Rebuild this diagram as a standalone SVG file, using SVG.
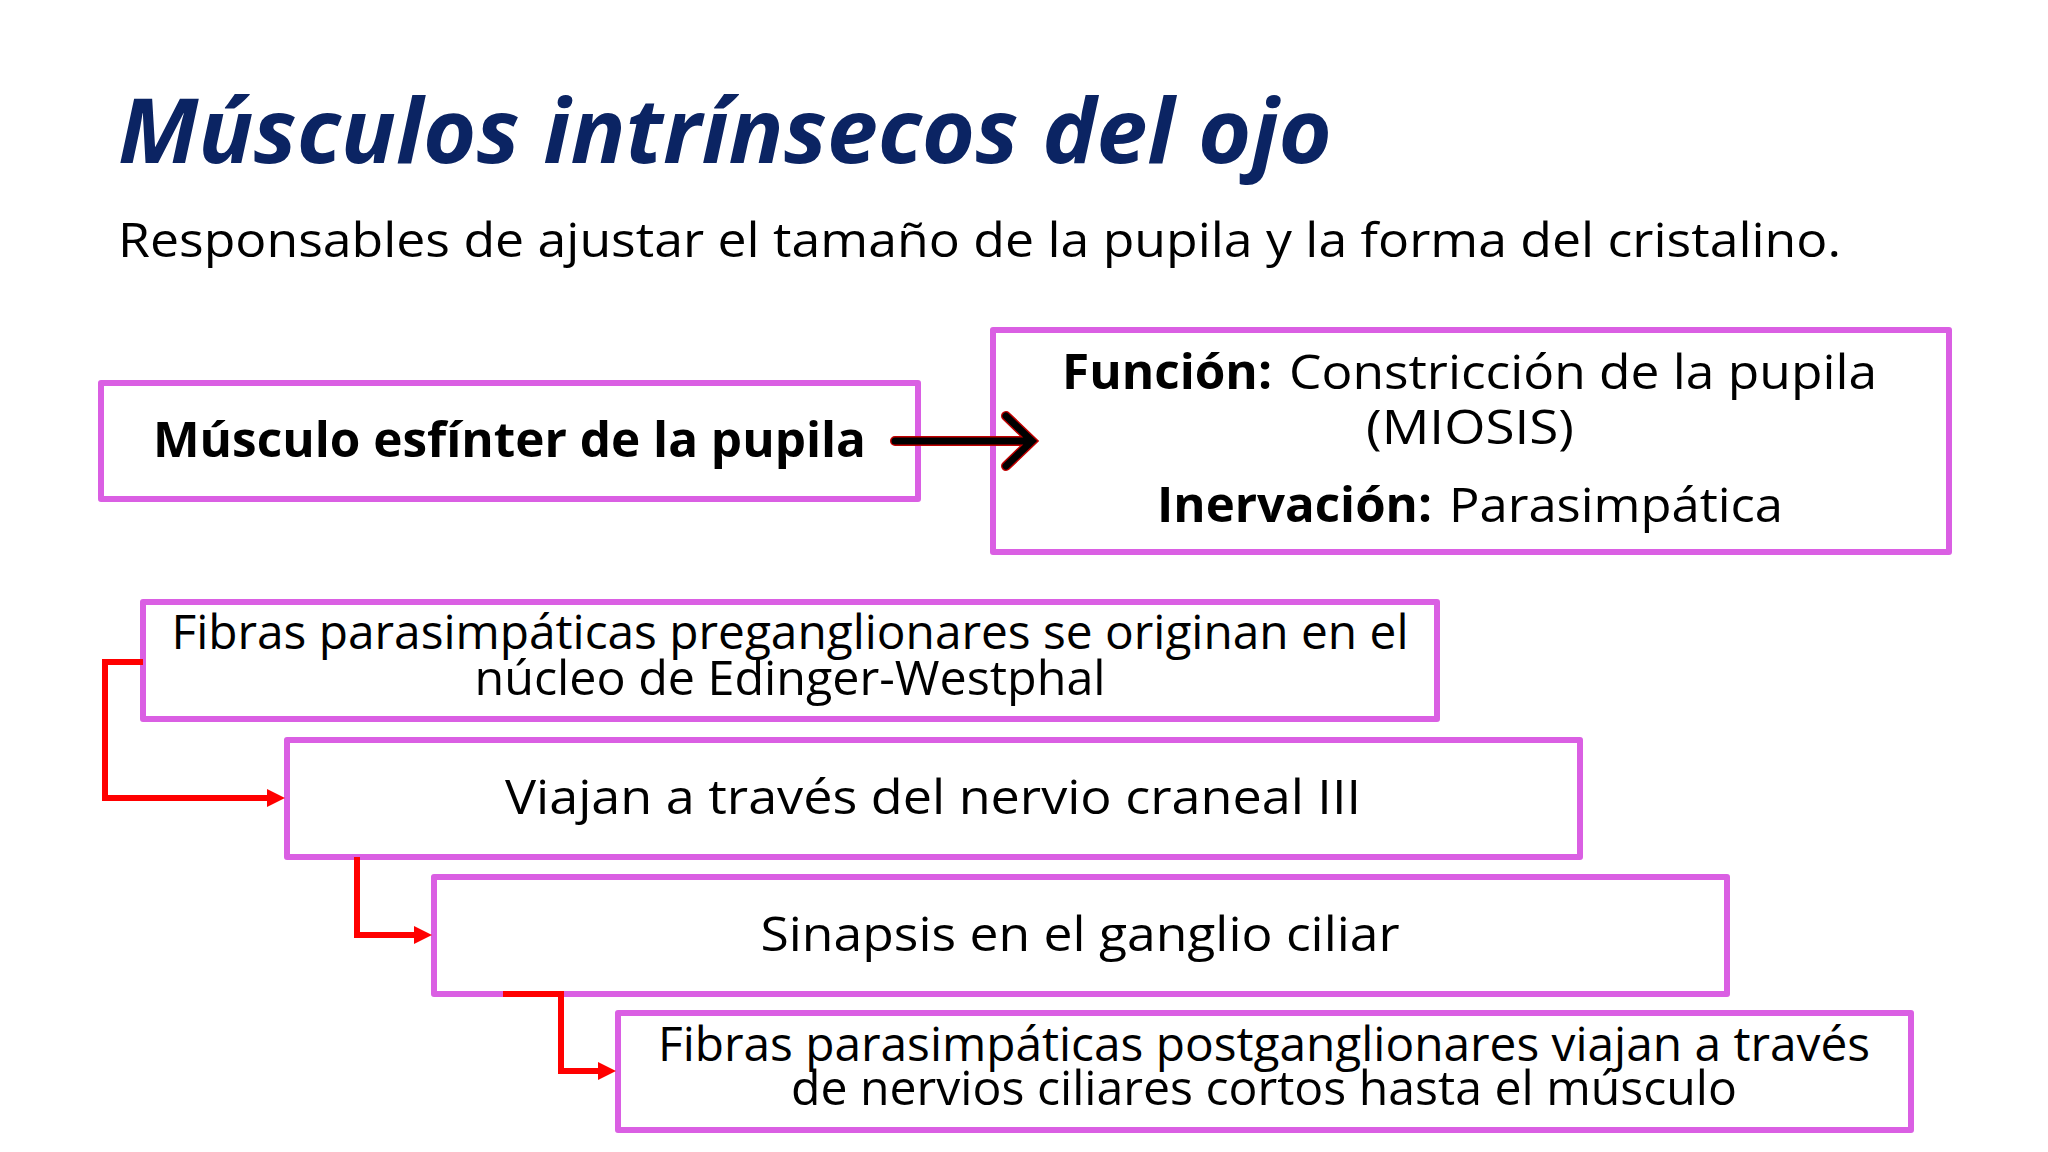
<svg xmlns="http://www.w3.org/2000/svg" width="2048" height="1152" viewBox="0 0 2048 1152">
<style>
.box{fill:#fff;stroke:#DA5FE3;stroke-width:6;stroke-linejoin:round}
.t{font-family:"Open Sans","Noto Sans","Liberation Sans",sans-serif;fill:#000;font-size:48px}
.b{font-weight:bold}
.c{text-anchor:middle}
.title{font-family:"Open Sans","Noto Sans","Liberation Sans",sans-serif;font-weight:bold;font-style:italic;fill:#0B2463;font-size:90px}
.con{fill:none;stroke:#FF0000;stroke-width:6}
</style>
<defs>
<marker id="ah" markerWidth="3" markerHeight="3" refX="0" refY="1.5" orient="auto" markerUnits="strokeWidth" viewBox="0 0 3 3">
<path d="M0,0 L3,1.5 L0,3 Z" fill="#FF0000"/>
</marker>
</defs>
<rect width="2048" height="1152" fill="#fff"/>
<text class="title" x="118" y="163" textLength="1214" lengthAdjust="spacingAndGlyphs">Músculos intrínsecos del ojo</text>
<text class="t" x="118" y="257" textLength="1723" lengthAdjust="spacingAndGlyphs">Responsables de ajustar el tamaño de la pupila y la forma del cristalino.</text>

<g id="node-esfinter">
<rect class="box" x="101" y="383" width="817" height="116"/>
<text class="t b" x="153" y="457" textLength="713" lengthAdjust="spacingAndGlyphs">Músculo esfínter de la pupila</text>
</g>
<g id="node-funcion">
<rect class="box" x="993" y="330" width="956" height="222"/>
<text class="t b" x="1062" y="389" textLength="210" lengthAdjust="spacingAndGlyphs">Función:</text>
<text class="t" x="1289" y="389" textLength="588" lengthAdjust="spacingAndGlyphs">Constricción de la pupila</text>
<text class="t c" x="1470" y="444" textLength="208" lengthAdjust="spacingAndGlyphs">(MIOSIS)</text>
<text class="t b" x="1157" y="522" textLength="275" lengthAdjust="spacingAndGlyphs">Inervación:</text>
<text class="t" x="1449" y="522" textLength="334" lengthAdjust="spacingAndGlyphs">Parasimpática</text>
</g>
<g id="node-fibras-pre">
<rect class="box" x="143" y="602" width="1294" height="117"/>
<text class="t c" x="790" y="649" textLength="1237" lengthAdjust="spacingAndGlyphs">Fibras parasimpáticas preganglionares se originan en el</text>
<text class="t c" x="790" y="695" textLength="631" lengthAdjust="spacingAndGlyphs">núcleo de Edinger-Westphal</text>
</g>
<g id="node-viajan">
<rect class="box" x="287" y="740" width="1293" height="117"/>
<text class="t c" x="933" y="814" textLength="856" lengthAdjust="spacingAndGlyphs">Viajan a través del nervio craneal III</text>
</g>
<g id="node-sinapsis">
<rect class="box" x="434" y="877" width="1293" height="117"/>
<text class="t c" x="1080" y="951" textLength="639" lengthAdjust="spacingAndGlyphs">Sinapsis en el ganglio ciliar</text>
</g>
<g id="node-fibras-post">
<rect class="box" x="618" y="1013" width="1293" height="117"/>
<text class="t c" x="1264" y="1061" textLength="1212" lengthAdjust="spacingAndGlyphs">Fibras parasimpáticas postganglionares viajan a través</text>
<text class="t c" x="1264" y="1105" textLength="946" lengthAdjust="spacingAndGlyphs">de nervios ciliares cortos hasta el músculo</text>
</g>

<g id="connectors">
<g id="arrow-main">
<path d="M895,441 L1029,441 M1006,416 L1032,441 L1006,466" fill="none" stroke="#C00000" stroke-width="10" stroke-linecap="round" stroke-linejoin="miter"/>
<path d="M895,441 L1029,441 M1006,416 L1032,441 L1006,466" fill="none" stroke="#000" stroke-width="7" stroke-linecap="round" stroke-linejoin="miter"/>
</g>
<path class="con" d="M143,662 L105,662 L105,798 L267,798" marker-end="url(#ah)"/>
<path class="con" d="M357,857 L357,935 L414,935" marker-end="url(#ah)"/>
<path class="con" d="M503,994 L561,994 L561,1071 L598,1071" marker-end="url(#ah)"/>
</g>
</svg>
